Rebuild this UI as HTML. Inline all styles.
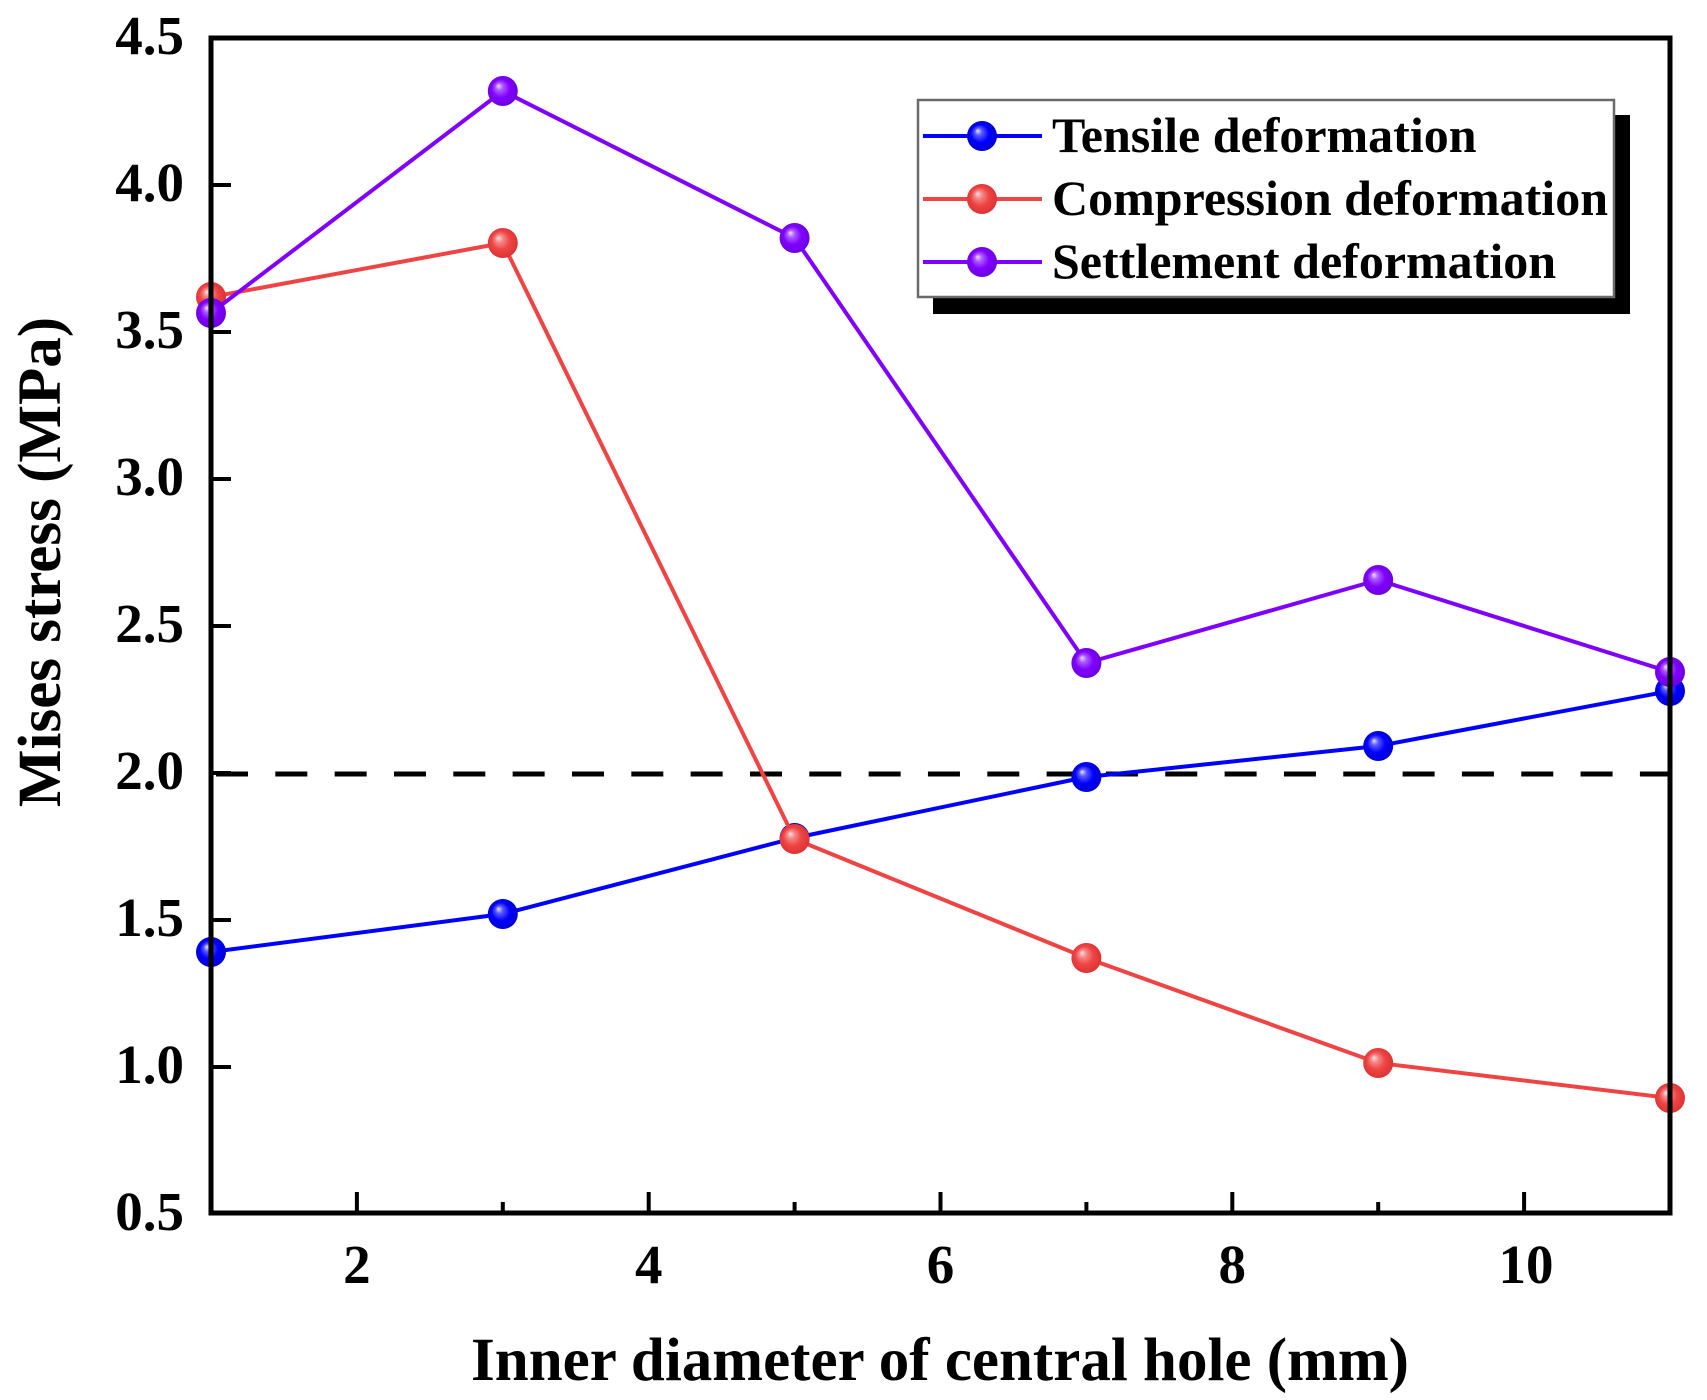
<!DOCTYPE html>
<html>
<head>
<meta charset="utf-8">
<style>
  html, body { margin: 0; padding: 0; background: #ffffff; }
  svg { display: block; }
  text { font-family: "Liberation Serif", "Times New Roman", serif; font-weight: bold; fill: #000; }
</style>
</head>
<body>
<svg width="1707" height="1400" viewBox="0 0 1707 1400" xmlns="http://www.w3.org/2000/svg">
  <defs>
    <radialGradient id="gB" cx="50%" cy="50%" r="55%" fx="35%" fy="32%">
      <stop offset="0%" stop-color="#e8e8ff"/>
      <stop offset="22%" stop-color="#5a5aff"/>
      <stop offset="55%" stop-color="#0000ff"/>
      <stop offset="100%" stop-color="#0000c8"/>
    </radialGradient>
    <radialGradient id="gR" cx="50%" cy="50%" r="55%" fx="35%" fy="32%">
      <stop offset="0%" stop-color="#ffe4e4"/>
      <stop offset="22%" stop-color="#f58a8a"/>
      <stop offset="55%" stop-color="#ef4444"/>
      <stop offset="100%" stop-color="#d83030"/>
    </radialGradient>
    <radialGradient id="gP" cx="50%" cy="50%" r="55%" fx="35%" fy="32%">
      <stop offset="0%" stop-color="#f0e0ff"/>
      <stop offset="22%" stop-color="#ac5cff"/>
      <stop offset="55%" stop-color="#8000ff"/>
      <stop offset="100%" stop-color="#6a00d8"/>
    </radialGradient>
  </defs>

  <!-- dashed reference line at 2.0 -->
  <line x1="211" y1="774" x2="1670" y2="774" stroke="#000" stroke-width="5" stroke-dasharray="32 27.33" stroke-dashoffset="54.33"/>

  <!-- Tensile (blue) -->
  <polyline fill="none" stroke="#0000ff" stroke-width="4" stroke-linejoin="round"
    points="211,952 502.8,914 794.6,838 1086.4,777 1378.2,746 1670,691"/>
  <g fill="url(#gB)">
    <circle cx="211" cy="952" r="15"/>
    <circle cx="502.8" cy="914" r="15"/>
    <circle cx="794.6" cy="838" r="15"/>
    <circle cx="1086.4" cy="777" r="15"/>
    <circle cx="1378.2" cy="746" r="15"/>
    <circle cx="1670" cy="691" r="15"/>
  </g>

  <!-- Compression (red) -->
  <polyline fill="none" stroke="#ef4444" stroke-width="4" stroke-linejoin="round"
    points="211,297 502.8,243 794.6,839 1086.4,958 1378.2,1063 1670,1098"/>
  <g fill="url(#gR)">
    <circle cx="211" cy="297" r="15"/>
    <circle cx="502.8" cy="243" r="15"/>
    <circle cx="794.6" cy="839" r="15"/>
    <circle cx="1086.4" cy="958" r="15"/>
    <circle cx="1378.2" cy="1063" r="15"/>
    <circle cx="1670" cy="1098" r="15"/>
  </g>

  <!-- Settlement (purple) -->
  <polyline fill="none" stroke="#8000ff" stroke-width="4" stroke-linejoin="round"
    points="211,313 502.8,91 794.6,238 1086.4,663 1378.2,580 1670,672"/>
  <g fill="url(#gP)">
    <circle cx="211" cy="313" r="15"/>
    <circle cx="502.8" cy="91" r="15"/>
    <circle cx="794.6" cy="238" r="15"/>
    <circle cx="1086.4" cy="663" r="15"/>
    <circle cx="1378.2" cy="580" r="15"/>
    <circle cx="1670" cy="672" r="15"/>
  </g>

  <!-- axes frame -->
  <rect x="211" y="38" width="1459" height="1175" fill="none" stroke="#000" stroke-width="5"/>

  <!-- y ticks -->
  <g stroke="#000" stroke-width="4">
    <line x1="211" y1="185" x2="231" y2="185"/>
    <line x1="211" y1="332" x2="231" y2="332"/>
    <line x1="211" y1="479" x2="231" y2="479"/>
    <line x1="211" y1="626" x2="231" y2="626"/>
    <line x1="211" y1="773" x2="231" y2="773"/>
    <line x1="211" y1="920" x2="231" y2="920"/>
    <line x1="211" y1="1067" x2="231" y2="1067"/>
  </g>
  <!-- x ticks -->
  <g stroke="#000" stroke-width="4">
    <line x1="356.9" y1="1213" x2="356.9" y2="1192"/>
    <line x1="648.7" y1="1213" x2="648.7" y2="1192"/>
    <line x1="940.5" y1="1213" x2="940.5" y2="1192"/>
    <line x1="1232.3" y1="1213" x2="1232.3" y2="1192"/>
    <line x1="1524.1" y1="1213" x2="1524.1" y2="1192"/>
    <line x1="502.8" y1="1213" x2="502.8" y2="1202"/>
    <line x1="794.6" y1="1213" x2="794.6" y2="1202"/>
    <line x1="1086.4" y1="1213" x2="1086.4" y2="1202"/>
    <line x1="1378.2" y1="1213" x2="1378.2" y2="1202"/>
  </g>

  <!-- y tick labels -->
  <g font-size="55" text-anchor="end">
    <text x="184" y="54">4.5</text>
    <text x="184" y="201">4.0</text>
    <text x="184" y="348">3.5</text>
    <text x="184" y="495">3.0</text>
    <text x="184" y="642">2.5</text>
    <text x="184" y="789">2.0</text>
    <text x="184" y="936">1.5</text>
    <text x="184" y="1083">1.0</text>
    <text x="184" y="1230">0.5</text>
  </g>

  <!-- x tick labels -->
  <g font-size="55" text-anchor="middle">
    <text x="356.9" y="1283">2</text>
    <text x="648.7" y="1283">4</text>
    <text x="940.5" y="1283">6</text>
    <text x="1232.3" y="1283">8</text>
    <text x="1526" y="1283">10</text>
  </g>

  <!-- axis titles -->
  <text x="940" y="1380" font-size="61" text-anchor="middle">Inner diameter of central hole (mm)</text>
  <text transform="translate(60,562) rotate(-90)" font-size="61" text-anchor="middle">Mises stress (MPa)</text>

  <!-- legend -->
  <rect x="933" y="115" width="697" height="199" fill="#000"/>
  <rect x="918" y="100" width="696" height="197" fill="#fff" stroke="#6a6a6a" stroke-width="2.5"/>
  <line x1="923" y1="136" x2="1042" y2="136" stroke="#0000ff" stroke-width="4"/>
  <circle cx="982" cy="136" r="15" fill="url(#gB)"/>
  <line x1="923" y1="199" x2="1042" y2="199" stroke="#ef4444" stroke-width="4"/>
  <circle cx="982" cy="199" r="15" fill="url(#gR)"/>
  <line x1="923" y1="262" x2="1042" y2="262" stroke="#8000ff" stroke-width="4"/>
  <circle cx="982" cy="262" r="15" fill="url(#gP)"/>
  <g font-size="50">
    <text x="1052" y="152">Tensile deformation</text>
    <text x="1052" y="215">Compression deformation</text>
    <text x="1052" y="278">Settlement deformation</text>
  </g>
</svg>
</body>
</html>
